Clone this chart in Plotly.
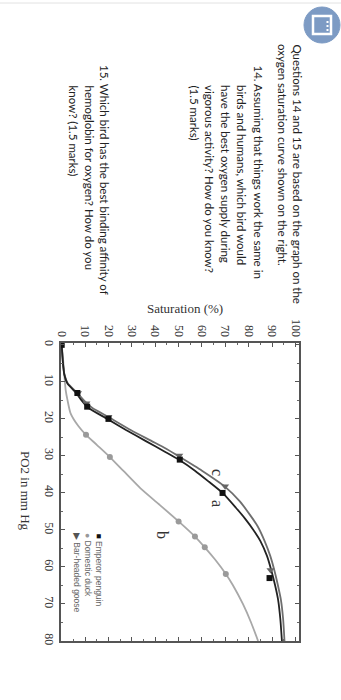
import plotly.graph_objects as go

# ---- data: oxygen saturation (%) against PO2 (mm Hg) ----
penguin_po2 = [0, 13, 16.7, 20, 31, 40, 63]
penguin_sat = [0, 6.7, 10.9, 20, 50.5, 68.8, 88.9]
duck_po2 = [24.3, 30.3, 47.7, 51.8, 54.7, 61.9]
duck_sat = [10.4, 20.6, 50, 57, 61.2, 70.2]
goose_po2 = [13, 15.8, 19.4, 29.9, 38.2, 60.8]
goose_sat = [7, 10.6, 20, 50.3, 69.9, 89.3]

# fitted dissociation curves
curve_a_po2 = [0, 3, 6, 8, 10.4, 13, 15, 17, 20, 23, 26, 29, 31, 34, 37, 40, 44, 47,
               50, 53, 57, 61, 65, 69, 74, 80]
curve_a_sat = [0, 0.3, 0.7, 1.1, 2.4, 6.2, 8.5, 11.3, 19.5, 27.5, 36, 44.5, 50, 57, 63,
               68.8, 74.5, 78.5, 82, 85, 87.8, 89.7, 91.3, 92.6, 93.5, 94.2]
curve_c_po2 = [0, 3, 6, 8, 10.4, 13, 15, 17, 19.5, 23, 26, 28, 30.2, 34, 38.3, 42.3,
               46, 49, 53, 57, 61, 65, 69, 74, 80]
curve_c_sat = [0, 0.3, 0.7, 1.2, 2.6, 6.7, 9.5, 13, 20, 29.5, 38.5, 44.5, 50.3, 60, 69.8,
               76.2, 80.6, 83.8, 86.8, 89.2, 91, 92.5, 93.8, 94.7, 95.3]
curve_b_po2 = [0, 4, 8, 12.2, 15, 18.5, 22, 24.3, 27, 30.3, 34, 38.7, 43, 47.7, 51.8,
               54.7, 58, 61.9, 65, 70, 75, 80]
curve_b_sat = [0, 0.6, 1.1, 1.7, 2.5, 3.8, 7.2, 10.4, 15, 20.6, 26.3, 33.6, 41.5, 50,
               57, 61.2, 65.6, 70.2, 73.3, 77.5, 81, 84]

sat_ticks = [0, 10, 20, 30, 40, 50, 60, 70, 80, 90, 100]
po2_ticks = [0, 10, 20, 30, 40, 50, 60, 70, 80]

W, H = 341, 700
L, R, T, B = 61, 299, 343, 641


def px(x, y):
    """pixel position on the page -> paper coordinates"""
    return (x - L) / (R - L), (B - y) / (B - T)


fig = go.Figure()

# the page is turned a quarter clockwise: saturation runs left->right, PO2 runs top->bottom
curve_style = dict(shape="spline", smoothing=0.6, width=1.8)
fig.add_trace(go.Scatter(x=curve_b_sat, y=curve_b_po2, mode="lines",
                         line=dict(color="#a8a8a8", **curve_style),
                         showlegend=False, hoverinfo="skip"))
fig.add_trace(go.Scatter(x=curve_c_sat, y=curve_c_po2, mode="lines",
                         line=dict(color="#6e6e6e", **curve_style),
                         showlegend=False, hoverinfo="skip"))
fig.add_trace(go.Scatter(x=curve_a_sat, y=curve_a_po2, mode="lines",
                         line=dict(color="#222222", **curve_style),
                         showlegend=False, hoverinfo="skip"))

fig.add_trace(go.Scatter(x=duck_sat, y=duck_po2, mode="markers",
                         marker=dict(symbol="circle", size=6, color="#9a9a9a"),
                         name="Domestic duck"))
fig.add_trace(go.Scatter(x=goose_sat, y=goose_po2, mode="markers",
                         marker=dict(symbol="triangle-down", size=7, color="#666666"),
                         name="Bar-headed goose"))
fig.add_trace(go.Scatter(x=penguin_sat, y=penguin_po2, mode="markers",
                         marker=dict(symbol="square", size=6, color="#111111"),
                         name="Emperor penguin"))

axis_font = dict(family="Liberation Serif", size=12, color="#333")
axis_common = dict(tickangle=90, tickfont=axis_font, ticks="inside", ticklen=4,
                   tickwidth=1.2, tickcolor="#555",
                   minor=dict(dtick=5, tick0=0, ticks="inside", ticklen=2, tickcolor="#666"),
                   showline=True, linecolor="#555", linewidth=1.5, mirror="ticks",
                   showgrid=False, zeroline=False, fixedrange=True)
fig.update_xaxes(range=[-0.3, 101.5], side="top", tickvals=sat_ticks,
                 ticktext=[str(v) for v in sat_ticks], **axis_common)
fig.update_yaxes(range=[80, -0.5], tickvals=po2_ticks,
                 ticktext=[str(v) for v in po2_ticks], **axis_common)

ann = []


def text(x, y, s, size, family="Lato", color="#222", xa="center", ya="top"):
    ax, ay = px(x, y)
    ann.append(dict(x=ax, y=ay, xref="paper", yref="paper", text=s, showarrow=False,
                    textangle=90, xanchor=xa, yanchor=ya,
                    font=dict(family=family, size=size, color=color)))


# question text
q = [
    (297, 42, "Questions 14 and 15 are based on the graph on the"),
    (282, 42, "oxygen saturation curve shown on the right."),
    (258, 63, "14. Assuming that things work the same in"),
    (242, 83, "birds and humans, which bird would"),
    (226, 83, "have the best oxygen supply during"),
    (210, 83, "vigorous activity? How do you know?"),
    (194, 83, "(1.5 marks)"),
    (105, 63, "15. Which bird has the best binding affinity of"),
    (89, 83, "hemoglobin for oxygen? How do you"),
    (73, 83, "know? (1.5 marks)"),
]
for x, y, s in q:
    text(x, y, s, 11.5)

# axis titles
ax_, ay_ = px(185, 308)
ann.append(dict(x=ax_, y=ay_, xref="paper", yref="paper", text="Saturation (%)",
                showarrow=False, xanchor="center", yanchor="middle",
                font=dict(family="Liberation Serif", size=13, color="#333")))
text(26, 491, "PO2 in mm Hg", 13, family="Liberation Serif", color="#333", ya="middle")

# curve labels
text(218, 472, "c", 16, family="Liberation Serif", color="#333", ya="middle")
text(218, 503, "a", 16, family="Liberation Serif", color="#333", ya="middle")
text(163, 535, "b", 16, family="Liberation Serif", color="#333", ya="middle")

# legend block
text(99, 531, '<span style="color:#111">■</span> Emperor penguin', 8.5,
     family="Liberation Sans", color="#666")
text(88, 531, '<span style="color:#999">●</span> Domestic duck', 8.5,
     family="Liberation Sans", color="#666")
text(77, 531, '<span style="color:#555">▶</span> Bar-headed goose', 8.5,
     family="Liberation Sans", color="#666")

fig.update_layout(annotations=ann)

# page decorations: top border and the image badge
shapes = []
x0, y0 = px(0, 3)
x1, _ = px(W, 3)
shapes.append(dict(type="line", xref="paper", yref="paper", x0=x0, x1=x1, y0=y0, y1=y0,
                   line=dict(color="#e2e2e2", width=1)))
cx0, cy0 = px(304, 7)
cx1, cy1 = px(340, 43)
shapes.append(dict(type="circle", xref="paper", yref="paper", x0=cx0, y0=cy0, x1=cx1, y1=cy1,
                   fillcolor="#7d9bc4", line=dict(color="#7d9bc4", width=1)))
rx0, ry0 = px(313, 16)
rx1, ry1 = px(331, 34)
shapes.append(dict(type="rect", xref="paper", yref="paper", x0=rx0, y0=ry0, x1=rx1, y1=ry1,
                   fillcolor="rgba(0,0,0,0)", line=dict(color="white", width=2.5)))
for dy in (22, 26, 30):
    dx0, dy0 = px(326.5, dy - 1)
    dx1, dy1 = px(328.5, dy + 1)
    shapes.append(dict(type="rect", xref="paper", yref="paper", x0=dx0, y0=dy0, x1=dx1, y1=dy1,
                       fillcolor="white", line=dict(width=0)))
fig.update_layout(shapes=shapes)

fig.update_layout(width=W, height=H, margin=dict(l=L, r=W - R, t=T, b=H - B),
                  paper_bgcolor="white", plot_bgcolor="white", showlegend=False)

fig.write_html("out.html", config={"displayModeBar": False})
